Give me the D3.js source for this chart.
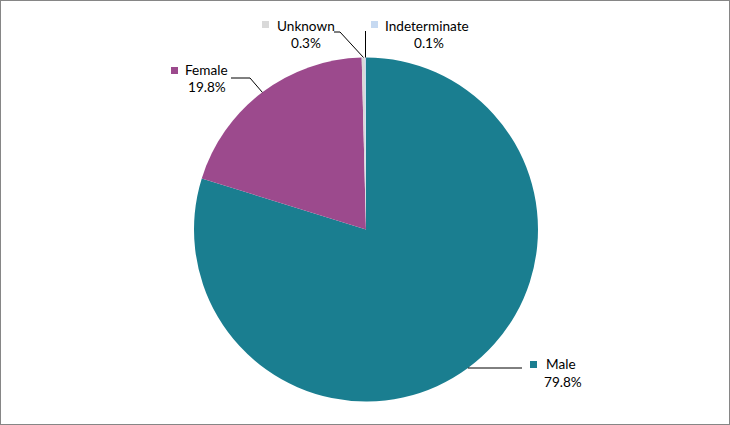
<!DOCTYPE html>
<html><head><meta charset="utf-8">
<script src="https://cdn.jsdelivr.net/npm/d3@7"></script>
<style>
html,body{margin:0;padding:0;background:#fff;}
text{font-family:Lato,"Open Sans",sans-serif;font-size:13.6px;fill:#000;}
</style></head>
<body><svg id="c" width="730" height="425"></svg>
<script>
const categories = ["Male", "Female", "Unknown", "Indeterminate"];
const values = [79.8, 19.8, 0.3, 0.1];
const labels = ["79.8%", "19.8%", "0.3%", "0.1%"];
const colors = ["#1A7E90", "#9C4A8D", "#D9D9D9", "#C6D9F1"];

const svg = d3.select("#c");
svg.append("rect").attr("x",0.5).attr("y",0.5).attr("width",729).attr("height",424)
  .attr("fill","#fff").attr("stroke","#868686");

const cx = 366, cy = 229.5, r = 172;
const data = categories.map((c,i)=>({name:c, value:values[i], label:labels[i], color:colors[i]}));
const pie = d3.pie().sort(null).value(d=>d.value);
const arcs = pie(data);
const arc = d3.arc().innerRadius(0).outerRadius(r);
const g = svg.append("g").attr("transform",`translate(${cx},${cy})`);
g.selectAll("path").data(arcs).enter().append("path")
  .attr("d",arc).attr("fill",d=>d.data.color);

const layout = {
  "Male":          {sq:[530,361], tx:546, ty:369, px:544, py:387, line:[[522,368]]},
  "Female":        {sq:[171,67],  tx:185, ty:75,  px:188, py:92,  line:[[250,78],[231,78]]},
  "Unknown":       {sq:[262,21],  tx:277, ty:31,  px:291, py:48,  line:[[340,32],[334,32]]},
  "Indeterminate": {sq:[371,21],  tx:385, ty:31,  px:414, py:48,  line:[[365.5,31]]}
};
const outer = d3.arc().innerRadius(r).outerRadius(r);
arcs.forEach(a=>{
  const L = layout[a.data.name];
  const c = outer.centroid(a);
  const pts = [[cx+c[0], cy+c[1]]].concat(L.line);
  if (a.data.name==="Indeterminate") pts[0] = [365.5, cy - r];
  if (a.data.name==="Unknown") pts[0] = [363.5, cy - r];
  svg.append("path").attr("d", d3.line()(pts)).attr("fill","none")
     .attr("stroke","#000").attr("stroke-width",1);
  svg.append("rect").attr("x",L.sq[0]).attr("y",L.sq[1]).attr("width",7).attr("height",7)
     .attr("fill",a.data.color);
  svg.append("text").attr("x",L.tx).attr("y",L.ty).text(a.data.name);
  svg.append("text").attr("x",L.px).attr("y",L.py).text(a.data.label);
});
</script></body></html>
